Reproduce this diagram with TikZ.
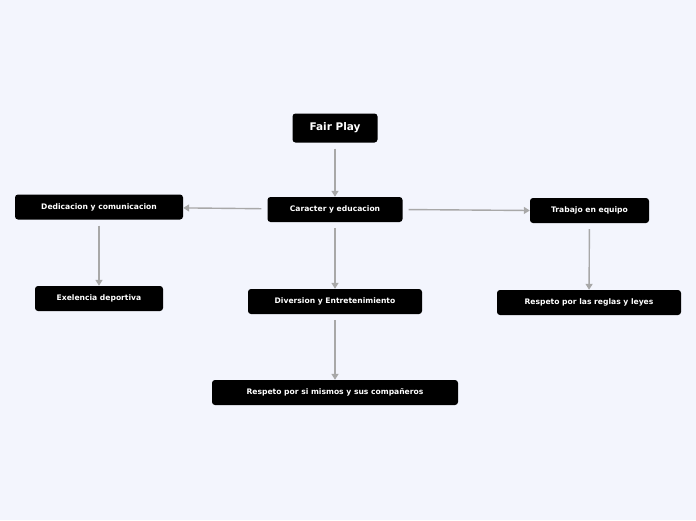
\documentclass[tikz,border=0pt]{standalone}
\usepackage{fontspec}
\setmainfont{DejaVu Sans}
\usetikzlibrary{arrows.meta}
\definecolor{bg}{HTML}{F3F5FD}
\definecolor{arr}{HTML}{A8A8A8}
\begin{document}
\begin{tikzpicture}[x=1pt,y=-1pt,
  box/.style={fill=black,rounded corners=3pt,text=white,font=\bfseries\fontsize{7.6}{9}\selectfont,inner sep=0pt,minimum height=25pt,align=center},
  link/.style={draw=arr,line width=1.4pt,-{Triangle[length=6pt,width=7pt]},shorten <=6pt}]
\fill[bg] (0,0) rectangle (696,520);
\useasboundingbox (0,0) rectangle (696,520);
\node[box,minimum width=85pt,minimum height=29pt,font=\bfseries\fontsize{10.5}{12}\selectfont] (fp) at (335,128) {Fair Play};
\node[box,minimum width=135pt] (ce) at (335,209.5) {Caracter y educacion};
\node[box,minimum width=168pt] (dc) at (99,207) {Dedicacion y comunicacion};
\node[box,minimum width=119pt] (te) at (589.5,210.5) {Trabajo en equipo};
\node[box,minimum width=128pt] (ed) at (99,298.5) {Exelencia deportiva};
\node[box,minimum width=174pt] (de) at (335,301.5) {Diversion y Entretenimiento};
\node[box,minimum width=184pt] (rl) at (589,302.5) {Respeto por las reglas y leyes};
\node[box,minimum width=246pt] (rs) at (335,392.5) {Respeto por si mismos y sus compañeros};
\draw[link] (fp) -- (ce);
\draw[link] (ce) -- (dc);
\draw[link] (ce.east) -- (te.west);
\draw[link] (dc) -- (ed);
\draw[link] (ce) -- (de);
\draw[link] (te) -- (rl);
\draw[link] (de) -- (rs);
\end{tikzpicture}
\end{document}
